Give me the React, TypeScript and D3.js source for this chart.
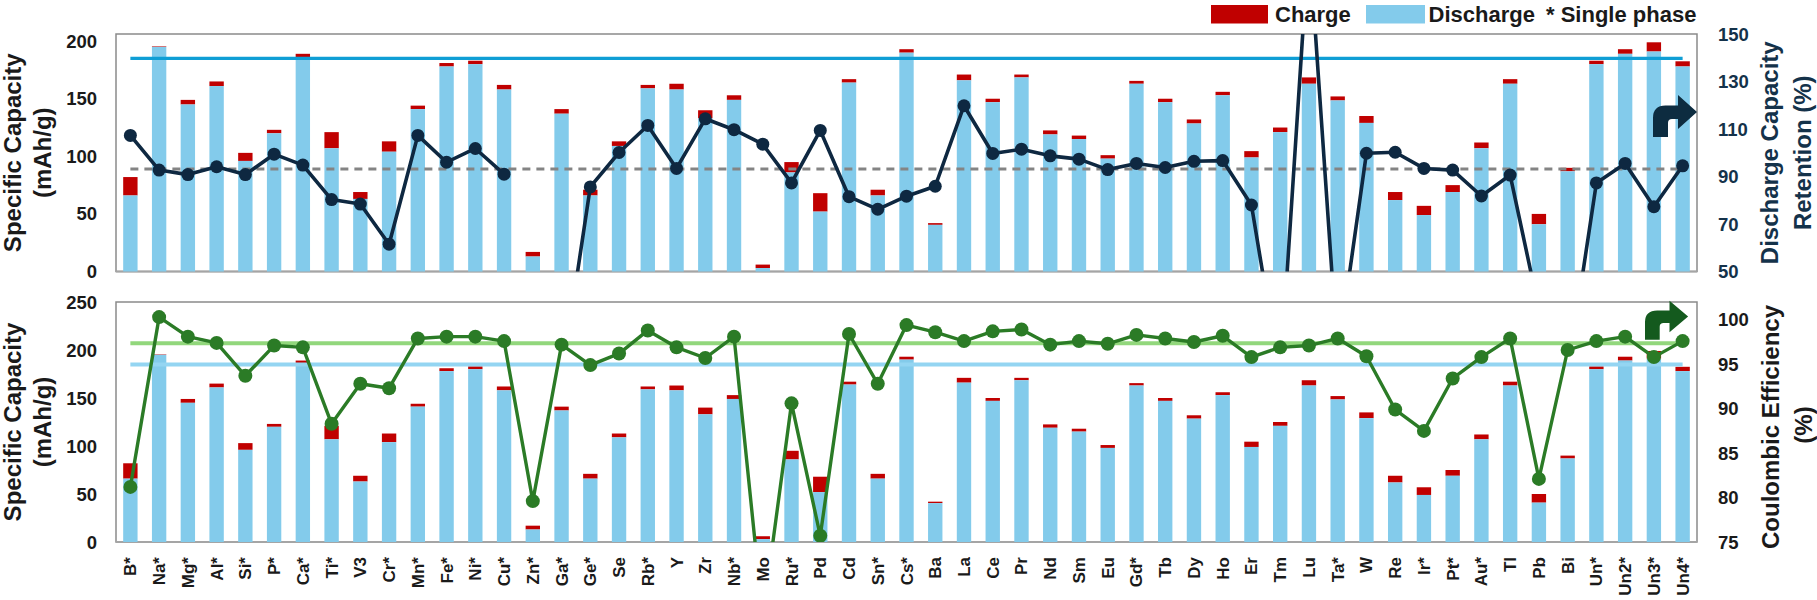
import React from "react";
import * as d3 from "d3";

const categories = ["B*","Na*","Mg*","Al*","Si*","P*","Ca*","Ti*","V3","Cr*","Mn*","Fe*","Ni*","Cu*","Zn*","Ga*","Ge*","Se","Rb*","Y","Zr","Nb*","Mo","Ru*","Pd","Cd","Sn*","Cs*","Ba","La","Ce","Pr","Nd","Sm","Eu","Gd*","Tb","Dy","Ho","Er","Tm","Lu","Ta*","W","Re","Ir*","Pt*","Au*","Tl","Pb","Bi","Un*","Un2*","Un3*","Un4*"];

const discharge = [66,195,145,161,96,120,186,107,63,104,141,178,180,158,13,137,66,109,159,158,133,149,3,86,52,164,66,190,40.5,166,147,168.5,119,115,98,163,147,128.5,153,99,121,163,148.5,129,62,49,69,107,163,41,87,180,189,191,178];

const charge = [82,195.5,149,165,103,123,189,121,69,113,144,181,183,162,17,141,71,113,162,163,140,153,6,95,68,167,71,193,42,171,150,171,122.5,118,101,165.5,150,132,156,104.5,125,168.5,152,135,69,57,75,112,167,50,90,183,193,199,182.5];

const retention: (number | null)[] = [107.3,92.7,90.8,94.1,90.8,99.4,94.8,80.3,78.4,61.5,107.3,96,101.8,91,null,5,85.6,100.1,111.5,93.4,114.3,109.7,103.6,87.3,109.4,81.5,76.2,81.7,85.9,119.8,99.7,101.5,98.7,97.3,92.9,95.5,93.8,96.4,96.7,78,5,190,14,99.8,100.2,93.4,92.7,81.8,90.6,34,7,87.3,95.5,77.3,94.5];

const coulombic = [81.2,100.3,98.1,97.4,93.7,97.1,96.9,88.3,92.8,92.3,97.9,98.1,98.1,97.6,79.6,97.2,94.9,96.2,98.8,96.9,95.7,98.1,66.5,90.6,75.7,98.4,92.8,99.4,98.6,97.6,98.7,98.9,97.2,97.6,97.3,98.3,97.9,97.5,98.2,95.8,96.9,97.1,97.9,95.9,89.9,87.5,93.4,95.8,97.9,82.1,96.6,97.6,98.1,95.8,97.6];

const capacityRef = [185];
const retentionRef = [93.2];
const ceRef = [97.35];

const topLeftTicks = [0, 50, 100, 150, 200];
const topRightTicks = [50, 70, 90, 110, 130, 150];
const botLeftTicks = [0, 50, 100, 150, 200, 250];
const botRightTicks = [75, 80, 85, 90, 95, 100];

const W = 1817, H = 600;
const plotL = 116, plotR = 1697;
const topT = 34, topB = 271.5, botT = 302, botB = 542;

const C_BAR = "#83CBEB";
const C_RED = "#C00000";
const C_NAVY = "#0E2841";
const C_GREEN = "#2B7B26";
const FONT = "'Liberation Sans', Arial, sans-serif";

const arrowPath = "M0,42 L0,23 Q0,10.5 12.5,10.5 L25,10.5 L25,0 L44,17 L25,34 L25,24 L19,24 Q15,24 15,28 L15,42 Z";

export default function App() {
  const x = d3.scaleBand<string>().domain(categories).range([plotL, plotR]).paddingInner(0.5).paddingOuter(0.25);
  const bw = x.bandwidth();
  const cx = (c: string) => (x(c) as number) + bw / 2;
  const firstX = cx(categories[0]);
  const lastX = cx(categories[categories.length - 1]);

  const yTopL = d3.scaleLinear().domain([0, 206.2]).range([topB, topT]);
  const yTopR = d3.scaleLinear().domain([50, 150]).range([topB, topT]);
  const yBotL = d3.scaleLinear().domain([0, 250]).range([botB, botT]);
  const yBotR = d3.scaleLinear().domain([75, 102]).range([botB, botT]);

  const retLine = d3.line<number | null>()
    .defined((d) => d != null)
    .x((_, i) => cx(categories[i]))
    .y((d) => yTopR(d as number));
  const ceLine = d3.line<number>()
    .x((_, i) => cx(categories[i]))
    .y((d) => yBotR(d));

  const bars = (yL: d3.ScaleLinear<number, number>, base: number) =>
    categories.map((c, i) => (
      <g key={c}>
        <rect x={x(c)} y={yL(charge[i])} width={bw} height={Math.max(0, yL(discharge[i]) - yL(charge[i]))} fill={C_RED} />
        <rect x={x(c)} y={yL(discharge[i])} width={bw} height={base - yL(discharge[i])} fill={C_BAR} />
      </g>
    ));

  const frame = (t: number, b: number) => (
    <g>
      <rect x={plotL} y={t} width={plotR - plotL} height={b - t} fill="none" stroke="#8A8A8A" strokeWidth={1.5} />
      <line x1={plotL} x2={plotR} y1={b} y2={b} stroke="#A5A5A5" strokeWidth={2} />
    </g>
  );

  const tickText = { fontFamily: FONT, fontWeight: 700, fontSize: 18.5, fill: "#1a1a1a" } as const;
  const titleText = { fontFamily: FONT, fontWeight: 700, fontSize: 24, fill: "#1a1a1a" } as const;

  return (
    <svg width={W} height={H} style={{ position: "absolute", left: 0, top: 0, background: "#fff" }}>
      <defs>
        <clipPath id="clipTop"><rect x={plotL} y={topT} width={plotR - plotL} height={topB - topT} /></clipPath>
        <clipPath id="clipBot"><rect x={plotL} y={botT} width={plotR - plotL} height={botB - botT} /></clipPath>
      </defs>
      <rect width={W} height={H} fill="#fff" />

      {/* Legend */}
      <rect x={1211} y={5} width={57} height={18.5} fill={C_RED} />
      <text x={1275} y={22} style={{ ...titleText, fontSize: 22 }}>Charge</text>
      <rect x={1366} y={5} width={59} height={18.5} fill={C_BAR} />
      <text x={1428.5} y={22} style={{ ...titleText, fontSize: 22 }}>Discharge</text>
      <text x={1546} y={22} style={{ ...titleText, fontSize: 22 }}>* Single phase</text>

      {/* Top panel */}
      {frame(topT, topB)}
      {bars(yTopL, topB)}
      <g clipPath="url(#clipTop)">
        {capacityRef.map((v, i) => (
          <line key={"cr" + i} x1={firstX} x2={lastX} y1={yTopL(v)} y2={yTopL(v)} stroke="#0F9ED5" strokeWidth={3.3} />
        ))}
        {retentionRef.map((v, i) => (
          <line key={"rr" + i} x1={firstX} x2={lastX} y1={yTopR(v)} y2={yTopR(v)} stroke="#848484" strokeWidth={3} strokeDasharray="8 6" />
        ))}
        <path d={retLine(retention) || ""} fill="none" stroke={C_NAVY} strokeWidth={3.6} strokeLinejoin="round" />
        {retention.map((v, i) => v == null ? null : (
          <circle key={"rd" + i} cx={cx(categories[i])} cy={yTopR(v)} r={6.5} fill={C_NAVY} />
        ))}
      </g>
      <path d={arrowPath} transform="translate(1653,95)" fill="#0D2C40" />

      {topLeftTicks.map((t) => (
        <text key={"tl" + t} x={97} y={yTopL(t)} textAnchor="end" dominantBaseline="central" style={tickText}>{t}</text>
      ))}
      {topRightTicks.map((t) => (
        <text key={"tr" + t} x={1718} y={yTopR(t)} textAnchor="start" dominantBaseline="central" style={{ ...tickText, fill: "#14324a" }}>{t}</text>
      ))}
      <text transform={`translate(21,${(topT + topB) / 2}) rotate(-90)`} textAnchor="middle" style={titleText}>Specific Capacity</text>
      <text transform={`translate(51,${(topT + topB) / 2}) rotate(-90)`} textAnchor="middle" style={titleText}>(mAh/g)</text>
      <text transform={`translate(1778,${(topT + topB) / 2}) rotate(-90)`} textAnchor="middle" style={{ ...titleText, fill: "#14324a" }}>Discharge Capacity</text>
      <text transform={`translate(1811,${(topT + topB) / 2}) rotate(-90)`} textAnchor="middle" style={{ ...titleText, fill: "#14324a" }}>Retention (%)</text>

      {/* Bottom panel */}
      {frame(botT, botB)}
      {bars(yBotL, botB)}
      <g clipPath="url(#clipBot)">
        {ceRef.map((v, i) => (
          <line key={"ce" + i} x1={firstX} x2={lastX} y1={yBotR(v)} y2={yBotR(v)} stroke="#92D77C" strokeWidth={4} />
        ))}
        {capacityRef.map((v, i) => (
          <line key={"cb" + i} x1={firstX} x2={lastX} y1={yBotL(v)} y2={yBotL(v)} stroke="#94D5F2" strokeWidth={4} />
        ))}
        <path d={ceLine(coulombic) || ""} fill="none" stroke={C_GREEN} strokeWidth={3.4} strokeLinejoin="round" />
        {coulombic.map((v, i) => (
          <circle key={"cd" + i} cx={cx(categories[i])} cy={yBotR(v)} r={7} fill={C_GREEN} />
        ))}
      </g>
      <path d={arrowPath} transform="translate(1645,300.7) scale(0.98,0.93)" fill="#145A1E" />

      {botLeftTicks.map((t) => (
        <text key={"bl" + t} x={97} y={yBotL(t)} textAnchor="end" dominantBaseline="central" style={tickText}>{t}</text>
      ))}
      {botRightTicks.map((t) => (
        <text key={"br" + t} x={1718} y={yBotR(t)} textAnchor="start" dominantBaseline="central" style={tickText}>{t}</text>
      ))}
      <text transform={`translate(21,${(botT + botB) / 2}) rotate(-90)`} textAnchor="middle" style={titleText}>Specific Capacity</text>
      <text transform={`translate(51,${(botT + botB) / 2}) rotate(-90)`} textAnchor="middle" style={titleText}>(mAh/g)</text>
      <text transform={`translate(1779,${(botT + botB) / 2 + 5}) rotate(-90)`} textAnchor="middle" style={titleText}>Coulombic Efficiency</text>
      <text transform={`translate(1812,${(botT + botB) / 2 + 3}) rotate(-90)`} textAnchor="middle" style={titleText}>(%)</text>

      {/* X labels */}
      {categories.map((c) => (
        <text key={"xl" + c} transform={`translate(${cx(c) + 6},557) rotate(-90)`} textAnchor="end" style={{ ...tickText, fontSize: 17 }}>{c}</text>
      ))}
    </svg>
  );
}
